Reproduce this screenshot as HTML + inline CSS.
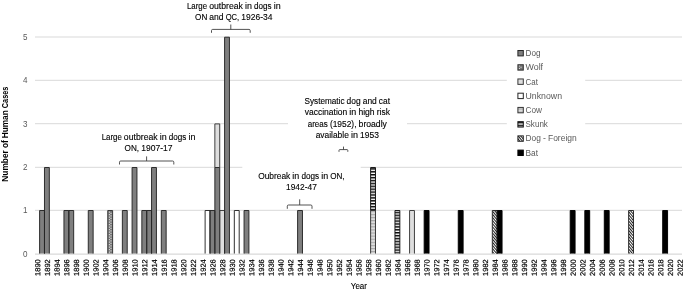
<!DOCTYPE html>
<html><head><meta charset="utf-8"><title>Human rabies cases by year</title>
<style>html,body{margin:0;padding:0;background:#fff}svg{display:block}text{font-family:"Liberation Sans",sans-serif}</style>
</head><body>
<svg width="685" height="291" viewBox="0 0 685 291">
<defs>
<pattern id="pCow" width="3" height="3.1" patternUnits="userSpaceOnUse"><rect width="3" height="3.1" fill="#dcdcdc"/><rect y="0" width="3" height="1.1" fill="#a8a8a8"/></pattern>
<pattern id="pSkunk" width="3" height="2.9" patternUnits="userSpaceOnUse"><rect width="3" height="2.9" fill="#fff"/><rect y="0" width="3" height="1.5" fill="#0a0a0a"/></pattern>
<pattern id="pFor" width="2" height="2" patternUnits="userSpaceOnUse" patternTransform="rotate(50)"><rect width="2" height="2" fill="#fff"/><rect width="2" height="0.95" fill="#111"/></pattern>
</defs>
<rect width="685" height="291" fill="#fff"/>
<line x1="35.0" x2="682.0" y1="210.30" y2="210.30" stroke="#d9d9d9" stroke-width="1"/>
<line x1="35.0" x2="682.0" y1="167.30" y2="167.30" stroke="#d9d9d9" stroke-width="1"/>
<line x1="35.0" x2="682.0" y1="123.70" y2="123.70" stroke="#d9d9d9" stroke-width="1"/>
<line x1="35.0" x2="682.0" y1="80.30" y2="80.30" stroke="#d9d9d9" stroke-width="1"/>
<line x1="35.0" x2="682.0" y1="37.00" y2="37.00" stroke="#d9d9d9" stroke-width="1"/>
<rect x="506.8" y="44" width="78.4" height="118" fill="#fff"/>
<rect x="288" y="92" width="119" height="50" fill="#fff"/>
<rect x="242.3" y="163" width="118.4" height="32" fill="#fff"/>
<line x1="35.0" x2="682.0" y1="254.1" y2="254.1" stroke="#d9d9d9" stroke-width="1.1"/>
<rect x="39.60" y="210.50" width="4.868" height="43.05" fill="#7f7f7f"/>
<rect x="44.47" y="167.50" width="4.868" height="86.05" fill="#7f7f7f"/>
<rect x="63.94" y="210.50" width="4.868" height="43.05" fill="#7f7f7f"/>
<rect x="68.81" y="210.50" width="4.868" height="43.05" fill="#7f7f7f"/>
<rect x="88.28" y="210.50" width="4.868" height="43.05" fill="#7f7f7f"/>
<rect x="107.75" y="210.50" width="4.868" height="43.05" fill="#757575"/>
<path d="M108.80 211.60h1.1v1.1h-1.1zM110.45 212.85h1.1v1.1h-1.1zM108.80 214.10h1.1v1.1h-1.1zM110.45 215.35h1.1v1.1h-1.1zM108.80 216.60h1.1v1.1h-1.1zM110.45 217.85h1.1v1.1h-1.1zM108.80 219.10h1.1v1.1h-1.1zM110.45 220.35h1.1v1.1h-1.1zM108.80 221.60h1.1v1.1h-1.1zM110.45 222.85h1.1v1.1h-1.1zM108.80 224.10h1.1v1.1h-1.1zM110.45 225.35h1.1v1.1h-1.1zM108.80 226.60h1.1v1.1h-1.1zM110.45 227.85h1.1v1.1h-1.1zM108.80 229.10h1.1v1.1h-1.1zM110.45 230.35h1.1v1.1h-1.1zM108.80 231.60h1.1v1.1h-1.1zM110.45 232.85h1.1v1.1h-1.1zM108.80 234.10h1.1v1.1h-1.1zM110.45 235.35h1.1v1.1h-1.1zM108.80 236.60h1.1v1.1h-1.1zM110.45 237.85h1.1v1.1h-1.1zM108.80 239.10h1.1v1.1h-1.1zM110.45 240.35h1.1v1.1h-1.1zM108.80 241.60h1.1v1.1h-1.1zM110.45 242.85h1.1v1.1h-1.1zM108.80 244.10h1.1v1.1h-1.1zM110.45 245.35h1.1v1.1h-1.1zM108.80 246.60h1.1v1.1h-1.1zM110.45 247.85h1.1v1.1h-1.1zM108.80 249.10h1.1v1.1h-1.1zM110.45 250.35h1.1v1.1h-1.1zM108.80 251.60h1.1v1.1h-1.1z" fill="#dcdcdc"/>
<rect x="122.36" y="210.50" width="4.868" height="43.05" fill="#7f7f7f"/>
<rect x="132.09" y="167.50" width="4.868" height="86.05" fill="#7f7f7f"/>
<rect x="141.83" y="210.50" width="4.868" height="43.05" fill="#7f7f7f"/>
<rect x="146.70" y="210.50" width="4.868" height="43.05" fill="#7f7f7f"/>
<rect x="151.56" y="167.50" width="4.868" height="86.05" fill="#7f7f7f"/>
<rect x="161.30" y="210.50" width="4.868" height="43.05" fill="#7f7f7f"/>
<rect x="205.11" y="210.50" width="4.868" height="43.05" fill="#ffffff"/>
<rect x="209.98" y="210.50" width="4.868" height="43.05" fill="#7f7f7f"/>
<rect x="214.85" y="167.50" width="4.868" height="86.05" fill="#7f7f7f"/>
<rect x="214.85" y="123.90" width="4.868" height="43.60" fill="#dedede"/>
<rect x="219.72" y="210.50" width="4.868" height="43.05" fill="#dedede"/>
<rect x="224.58" y="37.20" width="4.868" height="216.35" fill="#7f7f7f"/>
<rect x="234.32" y="210.50" width="4.868" height="43.05" fill="#ffffff"/>
<rect x="244.06" y="210.50" width="4.868" height="43.05" fill="#7f7f7f"/>
<rect x="297.60" y="210.50" width="4.868" height="43.05" fill="#7f7f7f"/>
<rect x="370.62" y="210.50" width="4.868" height="43.05" fill="url(#pCow)"/>
<rect x="370.62" y="167.50" width="4.868" height="43.00" fill="url(#pSkunk)"/>
<rect x="394.96" y="210.50" width="4.868" height="43.05" fill="url(#pSkunk)"/>
<rect x="409.57" y="210.50" width="4.868" height="43.05" fill="#dedede"/>
<rect x="424.17" y="210.50" width="4.868" height="43.05" fill="#000000"/>
<rect x="458.25" y="210.50" width="4.868" height="43.05" fill="#000000"/>
<rect x="492.32" y="210.50" width="4.868" height="43.05" fill="url(#pFor)"/>
<rect x="497.19" y="210.50" width="4.868" height="43.05" fill="#000000"/>
<rect x="570.21" y="210.50" width="4.868" height="43.05" fill="#000000"/>
<rect x="584.82" y="210.50" width="4.868" height="43.05" fill="#000000"/>
<rect x="604.29" y="210.50" width="4.868" height="43.05" fill="#000000"/>
<rect x="628.63" y="210.50" width="4.868" height="43.05" fill="url(#pFor)"/>
<rect x="662.70" y="210.50" width="4.868" height="43.05" fill="#000000"/>
<path d="M39.60 253.55V210.50H44.47V253.55" fill="none" stroke="#262626" stroke-width="0.95"/>
<path d="M44.47 253.55V167.50H49.34V253.55" fill="none" stroke="#262626" stroke-width="0.95"/>
<path d="M63.94 253.55V210.50H68.81V253.55" fill="none" stroke="#262626" stroke-width="0.95"/>
<path d="M68.81 253.55V210.50H73.68V253.55" fill="none" stroke="#262626" stroke-width="0.95"/>
<path d="M88.28 253.55V210.50H93.15V253.55" fill="none" stroke="#262626" stroke-width="0.95"/>
<path d="M107.75 253.55V210.50H112.62V253.55" fill="none" stroke="#333333" stroke-width="0.95"/>
<path d="M122.36 253.55V210.50H127.22V253.55" fill="none" stroke="#262626" stroke-width="0.95"/>
<path d="M132.09 253.55V167.50H136.96V253.55" fill="none" stroke="#262626" stroke-width="0.95"/>
<path d="M141.83 253.55V210.50H146.70V253.55" fill="none" stroke="#262626" stroke-width="0.95"/>
<path d="M146.70 253.55V210.50H151.56V253.55" fill="none" stroke="#262626" stroke-width="0.95"/>
<path d="M151.56 253.55V167.50H156.43V253.55" fill="none" stroke="#262626" stroke-width="0.95"/>
<path d="M161.30 253.55V210.50H166.17V253.55" fill="none" stroke="#262626" stroke-width="0.95"/>
<path d="M205.11 253.55V210.50H209.98V253.55" fill="none" stroke="#262626" stroke-width="0.95"/>
<path d="M209.98 253.55V210.50H214.85V253.55" fill="none" stroke="#262626" stroke-width="0.95"/>
<path d="M214.85 253.55V167.50H219.72V253.55" fill="none" stroke="#262626" stroke-width="0.95"/>
<path d="M214.85 167.50V123.90H219.72V167.50" fill="none" stroke="#383838" stroke-width="0.95"/>
<path d="M219.72 253.55V210.50H224.58V253.55" fill="none" stroke="#383838" stroke-width="0.95"/>
<path d="M224.58 253.55V37.20H229.45V253.55" fill="none" stroke="#262626" stroke-width="0.95"/>
<path d="M234.32 253.55V210.50H239.19V253.55" fill="none" stroke="#262626" stroke-width="0.95"/>
<path d="M244.06 253.55V210.50H248.92V253.55" fill="none" stroke="#262626" stroke-width="0.95"/>
<path d="M297.60 253.55V210.50H302.47V253.55" fill="none" stroke="#262626" stroke-width="0.95"/>
<path d="M370.62 253.55V210.50H375.49V253.55" fill="none" stroke="#333333" stroke-width="0.95"/>
<path d="M370.62 210.50V167.50H375.49V210.50" fill="none" stroke="#111111" stroke-width="0.95"/>
<path d="M394.96 253.55V210.50H399.83V253.55" fill="none" stroke="#111111" stroke-width="0.95"/>
<path d="M409.57 253.55V210.50H414.44V253.55" fill="none" stroke="#383838" stroke-width="0.95"/>
<path d="M424.17 253.55V210.50H429.04V253.55" fill="none" stroke="#000000" stroke-width="0.95"/>
<path d="M458.25 253.55V210.50H463.12V253.55" fill="none" stroke="#000000" stroke-width="0.95"/>
<path d="M492.32 253.55V210.50H497.19V253.55" fill="none" stroke="#262626" stroke-width="0.95"/>
<path d="M497.19 253.55V210.50H502.06V253.55" fill="none" stroke="#000000" stroke-width="0.95"/>
<path d="M570.21 253.55V210.50H575.08V253.55" fill="none" stroke="#000000" stroke-width="0.95"/>
<path d="M584.82 253.55V210.50H589.68V253.55" fill="none" stroke="#000000" stroke-width="0.95"/>
<path d="M604.29 253.55V210.50H609.16V253.55" fill="none" stroke="#000000" stroke-width="0.95"/>
<path d="M628.63 253.55V210.50H633.50V253.55" fill="none" stroke="#262626" stroke-width="0.95"/>
<path d="M662.70 253.55V210.50H667.57V253.55" fill="none" stroke="#000000" stroke-width="0.95"/>
<text x="23.1" y="256.80" font-size="8.8" textLength="4.5" lengthAdjust="spacingAndGlyphs" fill="#595959">0</text>
<text x="23.1" y="213.35" font-size="8.8" textLength="4.5" lengthAdjust="spacingAndGlyphs" fill="#595959">1</text>
<text x="23.1" y="170.35" font-size="8.8" textLength="4.5" lengthAdjust="spacingAndGlyphs" fill="#595959">2</text>
<text x="23.1" y="126.75" font-size="8.8" textLength="4.5" lengthAdjust="spacingAndGlyphs" fill="#595959">3</text>
<text x="23.1" y="83.35" font-size="8.8" textLength="4.5" lengthAdjust="spacingAndGlyphs" fill="#595959">4</text>
<text x="23.1" y="40.05" font-size="8.8" textLength="4.5" lengthAdjust="spacingAndGlyphs" fill="#595959">5</text>
<text transform="translate(40.15 275.9) rotate(-89.95)" font-size="7.4" textLength="16.6" lengthAdjust="spacingAndGlyphs" fill="#000" stroke="#000" stroke-width="0.2">1890</text>
<text transform="translate(49.89 275.9) rotate(-89.95)" font-size="7.4" textLength="16.6" lengthAdjust="spacingAndGlyphs" fill="#000" stroke="#000" stroke-width="0.2">1892</text>
<text transform="translate(59.62 275.9) rotate(-89.95)" font-size="7.4" textLength="16.6" lengthAdjust="spacingAndGlyphs" fill="#000" stroke="#000" stroke-width="0.2">1894</text>
<text transform="translate(69.36 275.9) rotate(-89.95)" font-size="7.4" textLength="16.6" lengthAdjust="spacingAndGlyphs" fill="#000" stroke="#000" stroke-width="0.2">1896</text>
<text transform="translate(79.09 275.9) rotate(-89.95)" font-size="7.4" textLength="16.6" lengthAdjust="spacingAndGlyphs" fill="#000" stroke="#000" stroke-width="0.2">1898</text>
<text transform="translate(88.83 275.9) rotate(-89.95)" font-size="7.4" textLength="16.6" lengthAdjust="spacingAndGlyphs" fill="#000" stroke="#000" stroke-width="0.2">1900</text>
<text transform="translate(98.57 275.9) rotate(-89.95)" font-size="7.4" textLength="16.6" lengthAdjust="spacingAndGlyphs" fill="#000" stroke="#000" stroke-width="0.2">1902</text>
<text transform="translate(108.30 275.9) rotate(-89.95)" font-size="7.4" textLength="16.6" lengthAdjust="spacingAndGlyphs" fill="#000" stroke="#000" stroke-width="0.2">1904</text>
<text transform="translate(118.04 275.9) rotate(-89.95)" font-size="7.4" textLength="16.6" lengthAdjust="spacingAndGlyphs" fill="#000" stroke="#000" stroke-width="0.2">1906</text>
<text transform="translate(127.77 275.9) rotate(-89.95)" font-size="7.4" textLength="16.6" lengthAdjust="spacingAndGlyphs" fill="#000" stroke="#000" stroke-width="0.2">1908</text>
<text transform="translate(137.51 275.9) rotate(-89.95)" font-size="7.4" textLength="16.6" lengthAdjust="spacingAndGlyphs" fill="#000" stroke="#000" stroke-width="0.2">1910</text>
<text transform="translate(147.25 275.9) rotate(-89.95)" font-size="7.4" textLength="16.6" lengthAdjust="spacingAndGlyphs" fill="#000" stroke="#000" stroke-width="0.2">1912</text>
<text transform="translate(156.98 275.9) rotate(-89.95)" font-size="7.4" textLength="16.6" lengthAdjust="spacingAndGlyphs" fill="#000" stroke="#000" stroke-width="0.2">1914</text>
<text transform="translate(166.72 275.9) rotate(-89.95)" font-size="7.4" textLength="16.6" lengthAdjust="spacingAndGlyphs" fill="#000" stroke="#000" stroke-width="0.2">1916</text>
<text transform="translate(176.45 275.9) rotate(-89.95)" font-size="7.4" textLength="16.6" lengthAdjust="spacingAndGlyphs" fill="#000" stroke="#000" stroke-width="0.2">1918</text>
<text transform="translate(186.19 275.9) rotate(-89.95)" font-size="7.4" textLength="16.6" lengthAdjust="spacingAndGlyphs" fill="#000" stroke="#000" stroke-width="0.2">1920</text>
<text transform="translate(195.93 275.9) rotate(-89.95)" font-size="7.4" textLength="16.6" lengthAdjust="spacingAndGlyphs" fill="#000" stroke="#000" stroke-width="0.2">1922</text>
<text transform="translate(205.66 275.9) rotate(-89.95)" font-size="7.4" textLength="16.6" lengthAdjust="spacingAndGlyphs" fill="#000" stroke="#000" stroke-width="0.2">1924</text>
<text transform="translate(215.40 275.9) rotate(-89.95)" font-size="7.4" textLength="16.6" lengthAdjust="spacingAndGlyphs" fill="#000" stroke="#000" stroke-width="0.2">1926</text>
<text transform="translate(225.13 275.9) rotate(-89.95)" font-size="7.4" textLength="16.6" lengthAdjust="spacingAndGlyphs" fill="#000" stroke="#000" stroke-width="0.2">1928</text>
<text transform="translate(234.87 275.9) rotate(-89.95)" font-size="7.4" textLength="16.6" lengthAdjust="spacingAndGlyphs" fill="#000" stroke="#000" stroke-width="0.2">1930</text>
<text transform="translate(244.61 275.9) rotate(-89.95)" font-size="7.4" textLength="16.6" lengthAdjust="spacingAndGlyphs" fill="#000" stroke="#000" stroke-width="0.2">1932</text>
<text transform="translate(254.34 275.9) rotate(-89.95)" font-size="7.4" textLength="16.6" lengthAdjust="spacingAndGlyphs" fill="#000" stroke="#000" stroke-width="0.2">1934</text>
<text transform="translate(264.08 275.9) rotate(-89.95)" font-size="7.4" textLength="16.6" lengthAdjust="spacingAndGlyphs" fill="#000" stroke="#000" stroke-width="0.2">1936</text>
<text transform="translate(273.81 275.9) rotate(-89.95)" font-size="7.4" textLength="16.6" lengthAdjust="spacingAndGlyphs" fill="#000" stroke="#000" stroke-width="0.2">1938</text>
<text transform="translate(283.55 275.9) rotate(-89.95)" font-size="7.4" textLength="16.6" lengthAdjust="spacingAndGlyphs" fill="#000" stroke="#000" stroke-width="0.2">1940</text>
<text transform="translate(293.29 275.9) rotate(-89.95)" font-size="7.4" textLength="16.6" lengthAdjust="spacingAndGlyphs" fill="#000" stroke="#000" stroke-width="0.2">1942</text>
<text transform="translate(303.02 275.9) rotate(-89.95)" font-size="7.4" textLength="16.6" lengthAdjust="spacingAndGlyphs" fill="#000" stroke="#000" stroke-width="0.2">1944</text>
<text transform="translate(312.76 275.9) rotate(-89.95)" font-size="7.4" textLength="16.6" lengthAdjust="spacingAndGlyphs" fill="#000" stroke="#000" stroke-width="0.2">1946</text>
<text transform="translate(322.49 275.9) rotate(-89.95)" font-size="7.4" textLength="16.6" lengthAdjust="spacingAndGlyphs" fill="#000" stroke="#000" stroke-width="0.2">1948</text>
<text transform="translate(332.23 275.9) rotate(-89.95)" font-size="7.4" textLength="16.6" lengthAdjust="spacingAndGlyphs" fill="#000" stroke="#000" stroke-width="0.2">1950</text>
<text transform="translate(341.97 275.9) rotate(-89.95)" font-size="7.4" textLength="16.6" lengthAdjust="spacingAndGlyphs" fill="#000" stroke="#000" stroke-width="0.2">1952</text>
<text transform="translate(351.70 275.9) rotate(-89.95)" font-size="7.4" textLength="16.6" lengthAdjust="spacingAndGlyphs" fill="#000" stroke="#000" stroke-width="0.2">1954</text>
<text transform="translate(361.44 275.9) rotate(-89.95)" font-size="7.4" textLength="16.6" lengthAdjust="spacingAndGlyphs" fill="#000" stroke="#000" stroke-width="0.2">1956</text>
<text transform="translate(371.17 275.9) rotate(-89.95)" font-size="7.4" textLength="16.6" lengthAdjust="spacingAndGlyphs" fill="#000" stroke="#000" stroke-width="0.2">1958</text>
<text transform="translate(380.91 275.9) rotate(-89.95)" font-size="7.4" textLength="16.6" lengthAdjust="spacingAndGlyphs" fill="#000" stroke="#000" stroke-width="0.2">1960</text>
<text transform="translate(390.65 275.9) rotate(-89.95)" font-size="7.4" textLength="16.6" lengthAdjust="spacingAndGlyphs" fill="#000" stroke="#000" stroke-width="0.2">1962</text>
<text transform="translate(400.38 275.9) rotate(-89.95)" font-size="7.4" textLength="16.6" lengthAdjust="spacingAndGlyphs" fill="#000" stroke="#000" stroke-width="0.2">1964</text>
<text transform="translate(410.12 275.9) rotate(-89.95)" font-size="7.4" textLength="16.6" lengthAdjust="spacingAndGlyphs" fill="#000" stroke="#000" stroke-width="0.2">1966</text>
<text transform="translate(419.85 275.9) rotate(-89.95)" font-size="7.4" textLength="16.6" lengthAdjust="spacingAndGlyphs" fill="#000" stroke="#000" stroke-width="0.2">1968</text>
<text transform="translate(429.59 275.9) rotate(-89.95)" font-size="7.4" textLength="16.6" lengthAdjust="spacingAndGlyphs" fill="#000" stroke="#000" stroke-width="0.2">1970</text>
<text transform="translate(439.33 275.9) rotate(-89.95)" font-size="7.4" textLength="16.6" lengthAdjust="spacingAndGlyphs" fill="#000" stroke="#000" stroke-width="0.2">1972</text>
<text transform="translate(449.06 275.9) rotate(-89.95)" font-size="7.4" textLength="16.6" lengthAdjust="spacingAndGlyphs" fill="#000" stroke="#000" stroke-width="0.2">1974</text>
<text transform="translate(458.80 275.9) rotate(-89.95)" font-size="7.4" textLength="16.6" lengthAdjust="spacingAndGlyphs" fill="#000" stroke="#000" stroke-width="0.2">1976</text>
<text transform="translate(468.53 275.9) rotate(-89.95)" font-size="7.4" textLength="16.6" lengthAdjust="spacingAndGlyphs" fill="#000" stroke="#000" stroke-width="0.2">1978</text>
<text transform="translate(478.27 275.9) rotate(-89.95)" font-size="7.4" textLength="16.6" lengthAdjust="spacingAndGlyphs" fill="#000" stroke="#000" stroke-width="0.2">1980</text>
<text transform="translate(488.01 275.9) rotate(-89.95)" font-size="7.4" textLength="16.6" lengthAdjust="spacingAndGlyphs" fill="#000" stroke="#000" stroke-width="0.2">1982</text>
<text transform="translate(497.74 275.9) rotate(-89.95)" font-size="7.4" textLength="16.6" lengthAdjust="spacingAndGlyphs" fill="#000" stroke="#000" stroke-width="0.2">1984</text>
<text transform="translate(507.48 275.9) rotate(-89.95)" font-size="7.4" textLength="16.6" lengthAdjust="spacingAndGlyphs" fill="#000" stroke="#000" stroke-width="0.2">1986</text>
<text transform="translate(517.21 275.9) rotate(-89.95)" font-size="7.4" textLength="16.6" lengthAdjust="spacingAndGlyphs" fill="#000" stroke="#000" stroke-width="0.2">1988</text>
<text transform="translate(526.95 275.9) rotate(-89.95)" font-size="7.4" textLength="16.6" lengthAdjust="spacingAndGlyphs" fill="#000" stroke="#000" stroke-width="0.2">1990</text>
<text transform="translate(536.69 275.9) rotate(-89.95)" font-size="7.4" textLength="16.6" lengthAdjust="spacingAndGlyphs" fill="#000" stroke="#000" stroke-width="0.2">1992</text>
<text transform="translate(546.42 275.9) rotate(-89.95)" font-size="7.4" textLength="16.6" lengthAdjust="spacingAndGlyphs" fill="#000" stroke="#000" stroke-width="0.2">1994</text>
<text transform="translate(556.16 275.9) rotate(-89.95)" font-size="7.4" textLength="16.6" lengthAdjust="spacingAndGlyphs" fill="#000" stroke="#000" stroke-width="0.2">1996</text>
<text transform="translate(565.89 275.9) rotate(-89.95)" font-size="7.4" textLength="16.6" lengthAdjust="spacingAndGlyphs" fill="#000" stroke="#000" stroke-width="0.2">1998</text>
<text transform="translate(575.63 275.9) rotate(-89.95)" font-size="7.4" textLength="16.6" lengthAdjust="spacingAndGlyphs" fill="#000" stroke="#000" stroke-width="0.2">2000</text>
<text transform="translate(585.37 275.9) rotate(-89.95)" font-size="7.4" textLength="16.6" lengthAdjust="spacingAndGlyphs" fill="#000" stroke="#000" stroke-width="0.2">2002</text>
<text transform="translate(595.10 275.9) rotate(-89.95)" font-size="7.4" textLength="16.6" lengthAdjust="spacingAndGlyphs" fill="#000" stroke="#000" stroke-width="0.2">2004</text>
<text transform="translate(604.84 275.9) rotate(-89.95)" font-size="7.4" textLength="16.6" lengthAdjust="spacingAndGlyphs" fill="#000" stroke="#000" stroke-width="0.2">2006</text>
<text transform="translate(614.57 275.9) rotate(-89.95)" font-size="7.4" textLength="16.6" lengthAdjust="spacingAndGlyphs" fill="#000" stroke="#000" stroke-width="0.2">2008</text>
<text transform="translate(624.31 275.9) rotate(-89.95)" font-size="7.4" textLength="16.6" lengthAdjust="spacingAndGlyphs" fill="#000" stroke="#000" stroke-width="0.2">2010</text>
<text transform="translate(634.05 275.9) rotate(-89.95)" font-size="7.4" textLength="16.6" lengthAdjust="spacingAndGlyphs" fill="#000" stroke="#000" stroke-width="0.2">2012</text>
<text transform="translate(643.78 275.9) rotate(-89.95)" font-size="7.4" textLength="16.6" lengthAdjust="spacingAndGlyphs" fill="#000" stroke="#000" stroke-width="0.2">2014</text>
<text transform="translate(653.52 275.9) rotate(-89.95)" font-size="7.4" textLength="16.6" lengthAdjust="spacingAndGlyphs" fill="#000" stroke="#000" stroke-width="0.2">2016</text>
<text transform="translate(663.25 275.9) rotate(-89.95)" font-size="7.4" textLength="16.6" lengthAdjust="spacingAndGlyphs" fill="#000" stroke="#000" stroke-width="0.2">2018</text>
<text transform="translate(672.99 275.9) rotate(-89.95)" font-size="7.4" textLength="16.6" lengthAdjust="spacingAndGlyphs" fill="#000" stroke="#000" stroke-width="0.2">2020</text>
<text transform="translate(682.73 275.9) rotate(-89.95)" font-size="7.4" textLength="16.6" lengthAdjust="spacingAndGlyphs" fill="#000" stroke="#000" stroke-width="0.2">2022</text>
<text x="350.8" y="288.6" font-size="8.3" textLength="16.2" lengthAdjust="spacingAndGlyphs" fill="#000" stroke="#000" stroke-width="0.12">Year</text>
<text transform="translate(8.2 181.7) rotate(-90)" font-size="8.3" font-weight="bold" fill="#000"><tspan x="0.00" textLength="31.48" lengthAdjust="spacingAndGlyphs">Number</tspan> <tspan x="33.58" textLength="7.90" lengthAdjust="spacingAndGlyphs">of</tspan> <tspan x="43.56" textLength="27.85" lengthAdjust="spacingAndGlyphs">Human</tspan> <tspan x="73.50" textLength="21.50" lengthAdjust="spacingAndGlyphs">Cases</tspan></text>
<text y="8.5" font-size="8.3" fill="#000" stroke="#000" stroke-width="0.12"><tspan x="186.95" textLength="20.15" lengthAdjust="spacingAndGlyphs">Large</tspan> <tspan x="209.18" textLength="33.79" lengthAdjust="spacingAndGlyphs">outbreak</tspan> <tspan x="245.05" textLength="6.93" lengthAdjust="spacingAndGlyphs">in</tspan> <tspan x="254.06" textLength="17.58" lengthAdjust="spacingAndGlyphs">dogs</tspan> <tspan x="273.72" textLength="6.93" lengthAdjust="spacingAndGlyphs">in</tspan></text>
<text y="19.6" font-size="8.3" fill="#000" stroke="#000" stroke-width="0.12"><tspan x="195.10" textLength="12.17" lengthAdjust="spacingAndGlyphs">ON</tspan> <tspan x="209.38" textLength="14.24" lengthAdjust="spacingAndGlyphs">and</tspan> <tspan x="225.72" textLength="13.51" lengthAdjust="spacingAndGlyphs">QC,</tspan> <tspan x="241.34" textLength="31.16" lengthAdjust="spacingAndGlyphs">1926-34</tspan></text>
<text y="139.8" font-size="8.3" fill="#000" stroke="#000" stroke-width="0.12"><tspan x="101.65" textLength="20.15" lengthAdjust="spacingAndGlyphs">Large</tspan> <tspan x="123.88" textLength="33.79" lengthAdjust="spacingAndGlyphs">outbreak</tspan> <tspan x="159.75" textLength="6.93" lengthAdjust="spacingAndGlyphs">in</tspan> <tspan x="168.76" textLength="17.58" lengthAdjust="spacingAndGlyphs">dogs</tspan> <tspan x="188.42" textLength="6.93" lengthAdjust="spacingAndGlyphs">in</tspan></text>
<text y="150.9" font-size="8.3" fill="#000" stroke="#000" stroke-width="0.12"><tspan x="124.55" textLength="14.54" lengthAdjust="spacingAndGlyphs">ON,</tspan> <tspan x="141.20" textLength="31.25" lengthAdjust="spacingAndGlyphs">1907-17</tspan></text>
<text y="103.7" font-size="8.3" fill="#000" stroke="#000" stroke-width="0.12"><tspan x="304.50" textLength="39.99" lengthAdjust="spacingAndGlyphs">Systematic</tspan> <tspan x="346.57" textLength="14.03" lengthAdjust="spacingAndGlyphs">dog</tspan> <tspan x="362.69" textLength="14.09" lengthAdjust="spacingAndGlyphs">and</tspan> <tspan x="378.87" textLength="11.23" lengthAdjust="spacingAndGlyphs">cat</tspan></text>
<text y="115.2" font-size="8.3" fill="#000" stroke="#000" stroke-width="0.12"><tspan x="304.70" textLength="42.55" lengthAdjust="spacingAndGlyphs">vaccination</tspan> <tspan x="349.34" textLength="6.99" lengthAdjust="spacingAndGlyphs">in</tspan> <tspan x="358.42" textLength="16.21" lengthAdjust="spacingAndGlyphs">high</tspan> <tspan x="376.72" textLength="13.18" lengthAdjust="spacingAndGlyphs">risk</tspan></text>
<text y="127.0" font-size="8.3" fill="#000" stroke="#000" stroke-width="0.12"><tspan x="307.70" textLength="20.12" lengthAdjust="spacingAndGlyphs">areas</tspan> <tspan x="329.90" textLength="26.59" lengthAdjust="spacingAndGlyphs">(1952),</tspan> <tspan x="358.58" textLength="28.32" lengthAdjust="spacingAndGlyphs">broadly</tspan></text>
<text y="138.3" font-size="8.3" fill="#000" stroke="#000" stroke-width="0.12"><tspan x="315.65" textLength="33.21" lengthAdjust="spacingAndGlyphs">available</tspan> <tspan x="350.96" textLength="7.02" lengthAdjust="spacingAndGlyphs">in</tspan> <tspan x="360.09" textLength="18.86" lengthAdjust="spacingAndGlyphs">1953</tspan></text>
<text y="178.5" font-size="8.3" fill="#000" stroke="#000" stroke-width="0.12"><tspan x="258.20" textLength="32.10" lengthAdjust="spacingAndGlyphs">Oubreak</tspan> <tspan x="292.39" textLength="6.96" lengthAdjust="spacingAndGlyphs">in</tspan> <tspan x="301.44" textLength="17.66" lengthAdjust="spacingAndGlyphs">dogs</tspan> <tspan x="321.18" textLength="6.96" lengthAdjust="spacingAndGlyphs">in</tspan> <tspan x="330.23" textLength="14.37" lengthAdjust="spacingAndGlyphs">ON,</tspan></text>
<text y="189.9" font-size="8.3" fill="#000" stroke="#000" stroke-width="0.12"><tspan x="286.00" textLength="30.80" lengthAdjust="spacingAndGlyphs">1942-47</tspan></text>
<path d="M211.5 32.8 V30.599999999999998 Q211.5 29.4 212.7 29.4 H249.0 Q250.2 29.4 250.2 30.599999999999998 V32.8 M230.8 29.4 V24.5" fill="none" stroke="#404040" stroke-width="0.9"/>
<path d="M119.5 164.5 V162.2 Q119.5 161.0 120.7 161.0 H172.60000000000002 Q173.8 161.0 173.8 162.2 V164.5 M146.6 161.0 V156.4" fill="none" stroke="#404040" stroke-width="0.9"/>
<path d="M339.0 151.8 V150.4 Q339.0 149.6 339.8 149.6 H347.0 Q347.8 149.6 347.8 150.4 V151.8 M343.5 149.6 V146.6" fill="none" stroke="#404040" stroke-width="0.9"/>
<path d="M287.3 208.8 V206.2 Q287.3 205.0 288.5 205.0 H310.8 Q312.0 205.0 312.0 206.2 V208.8 M299.7 205.0 V199.3" fill="none" stroke="#404040" stroke-width="0.9"/>
<rect x="517.9" y="50.50" width="5.4" height="5.4" fill="#7f7f7f"/>
<rect x="517.9" y="50.50" width="5.4" height="5.4" fill="none" stroke="#262626" stroke-width="1"/>
<text y="56.10" font-size="8.3" fill="#595959"><tspan x="525.50" textLength="15.00" lengthAdjust="spacingAndGlyphs">Dog</tspan></text>
<rect x="517.9" y="64.73" width="5.4" height="5.4" fill="#757575"/>
<path d="M518.85 65.43h1.1v1.1h-1.1zM520.50 66.68h1.1v1.1h-1.1zM518.85 67.93h1.1v1.1h-1.1z" fill="#dcdcdc"/>
<rect x="517.9" y="64.73" width="5.4" height="5.4" fill="none" stroke="#333333" stroke-width="1"/>
<text y="70.33" font-size="8.3" fill="#595959"><tspan x="525.50" textLength="17.60" lengthAdjust="spacingAndGlyphs">Wolf</tspan></text>
<rect x="517.9" y="78.96" width="5.4" height="5.4" fill="#dedede"/>
<rect x="517.9" y="78.96" width="5.4" height="5.4" fill="none" stroke="#383838" stroke-width="1"/>
<text y="84.56" font-size="8.3" fill="#595959"><tspan x="525.50" textLength="12.40" lengthAdjust="spacingAndGlyphs">Cat</tspan></text>
<rect x="517.9" y="93.19" width="5.4" height="5.4" fill="#ffffff"/>
<rect x="517.9" y="93.19" width="5.4" height="5.4" fill="none" stroke="#262626" stroke-width="1"/>
<text y="98.79" font-size="8.3" fill="#595959"><tspan x="525.50" textLength="36.50" lengthAdjust="spacingAndGlyphs">Unknown</tspan></text>
<rect x="517.9" y="107.42" width="5.4" height="5.4" fill="url(#pCow)"/>
<rect x="517.9" y="107.42" width="5.4" height="5.4" fill="none" stroke="#333333" stroke-width="1"/>
<text y="113.02" font-size="8.3" fill="#595959"><tspan x="525.50" textLength="16.50" lengthAdjust="spacingAndGlyphs">Cow</tspan></text>
<rect x="517.9" y="121.65" width="5.4" height="5.4" fill="url(#pSkunk)"/>
<rect x="517.9" y="121.65" width="5.4" height="5.4" fill="none" stroke="#111111" stroke-width="1"/>
<text y="127.25" font-size="8.3" fill="#595959"><tspan x="525.50" textLength="22.40" lengthAdjust="spacingAndGlyphs">Skunk</tspan></text>
<rect x="517.9" y="135.88" width="5.4" height="5.4" fill="url(#pFor)"/>
<rect x="517.9" y="135.88" width="5.4" height="5.4" fill="none" stroke="#262626" stroke-width="1"/>
<text y="141.48" font-size="8.3" fill="#595959"><tspan x="525.50" textLength="15.29" lengthAdjust="spacingAndGlyphs">Dog</tspan> <tspan x="542.93" textLength="2.90" lengthAdjust="spacingAndGlyphs">-</tspan> <tspan x="547.97" textLength="28.73" lengthAdjust="spacingAndGlyphs">Foreign</tspan></text>
<rect x="517.9" y="150.11" width="5.4" height="5.4" fill="#000000"/>
<rect x="517.9" y="150.11" width="5.4" height="5.4" fill="none" stroke="#000000" stroke-width="1"/>
<text y="155.71" font-size="8.3" fill="#595959"><tspan x="525.50" textLength="12.50" lengthAdjust="spacingAndGlyphs">Bat</tspan></text>
</svg>
</body></html>
